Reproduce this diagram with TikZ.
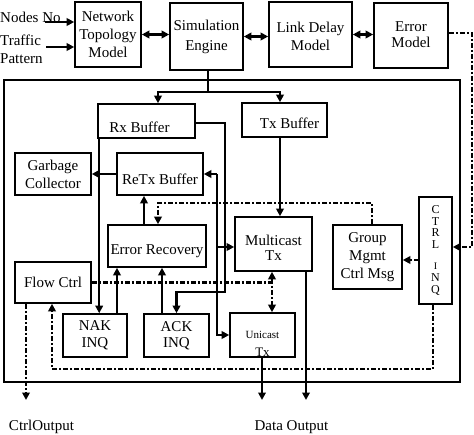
\documentclass[tikz,border=0pt]{standalone}
\usepackage{fontspec}
\setmainfont{Liberation Serif}
\usetikzlibrary{arrows.meta}
\newcommand\shiftdn[2]{\raisebox{-#1}[\height][\depth]{#2}}
\begin{document}
\begin{tikzpicture}[x=1pt,y=-1pt,
  box/.style={draw,line width=1.6pt,inner sep=0pt,align=center,font=\fontsize{15}{18}\selectfont},
  ln/.style={line width=2.4pt},
  tip/.tip={Triangle[length=7.5pt,width=7.5pt]},
  arr/.style={ln,-tip},
  darr/.style={ln,tip-tip},
  dd/.style={line width=2.4pt,dash pattern=on 5pt off 2pt on 2pt off 2pt},
  ddarr/.style={dd,-tip},
  dddarr/.style={dd,tip-tip},
  lbl/.style={font=\fontsize{15}{18}\selectfont,inner sep=0pt,align=left},
]
\useasboundingbox (0,0) rectangle (474,434);

% top row
\node[box,minimum width=66pt,minimum height=65pt] (ntm) at (108,34.5) {Network\\Topology\\Model};
\node[box,minimum width=73pt,minimum height=67pt,font=\fontsize{15}{20}\selectfont] (sim) at (206.5,36.5) {Simulation\\Engine};
\node[box,minimum width=83pt,minimum height=65pt] (ldm) at (310.5,34.5) {\shiftdn{2pt}{\shortstack{Link Delay\\[2pt]Model}}};
\node[box,minimum width=74pt,minimum height=65pt] (err) at (411,35.5) {\shiftdn{-1pt}{\shortstack{Error\\[2pt]Model}}};

\node[lbl,anchor=west] (nodesno) at (0,17) {Nodes No};
\node[lbl,anchor=west] (traffic) at (0,49) {Traffic\\Pattern};

% outer box
\node[draw,line width=2.4pt,minimum width=456pt,minimum height=302pt,inner sep=0pt] (outer) at (232,231) {};

% inner boxes
\node[box,minimum width=97pt,minimum height=34pt] (rx) at (146.5,121) {\shiftdn{6pt}{Rx Buffer\hspace{14pt}}};
\node[box,minimum width=85pt,minimum height=34pt] (tx) at (284.5,120) {\shiftdn{3pt}{\hspace{10pt}Tx Buffer}};
\node[box,minimum width=76pt,minimum height=42pt] (gc) at (53,174) {Garbage\\Collector};
\node[box,minimum width=86pt,minimum height=42pt] (retx) at (160,174) {\shiftdn{5pt}{ReTx Buffer}};
\node[box,minimum width=98pt,minimum height=42pt] (er) at (157,246) {\shiftdn{5pt}{Error Recovery}};
\node[box,minimum width=77pt,minimum height=54pt,font=\fontsize{15}{17}\selectfont] (mc) at (273.5,244) {\shiftdn{4pt}{\shortstack{Multicast\\[2pt]Tx}}};
\node[box,minimum width=69pt,minimum height=64pt] (gm) at (367.5,257) {Group\\Mgmt\\Ctrl Msg};
\node[box,minimum width=33pt,minimum height=107pt,font=\fontsize{12}{12}\selectfont] (ctrl) at (435.5,250.5)
  {C\\[0pt]T\\[-1pt]R\\L\\[9pt]\fontsize{10}{12}\selectfont I\\N\\Q};
\node[box,minimum width=76pt,minimum height=41pt] (fc) at (53,282.5) {Flow Ctrl};
\node[box,minimum width=64pt,minimum height=43pt,font=\fontsize{15}{17}\selectfont] (nak) at (95,335.5) {NAK\\INQ};
\node[box,minimum width=65pt,minimum height=43pt,font=\fontsize{15}{16}\selectfont] (ack) at (176.5,335.5) {ACK\\INQ};
\node[box,minimum width=65pt,minimum height=44pt] (uni) at (262.5,335)
  {\shiftdn{9pt}{\shortstack{\fontsize{11}{13}\selectfont Unicast\\[6pt]\fontsize{13}{13}\selectfont Tx}}};

\node[lbl,anchor=base] (ctrlout) at (41.5,430) {CtrlOutput};
\node[lbl,anchor=base] (dataout) at (291.5,430) {Data Output};

% inputs
\coordinate (nn) at (45,22);
\coordinate (tp) at (46,47);
\draw[arr] (nn) -- (nn -| ntm.west);
\draw[arr] (tp) -- (tp -| ntm.west);

% top double arrows
\draw[darr] (ntm.east) -- (ntm.east -| sim.west);
\draw[darr] (sim.east) -- (sim.east -| ldm.west);
\draw[darr] (ldm.east) -- (ldm.east -| err.west);

% simulation engine to buffers
\coordinate (sj) at (208,92);
\draw[ln] (sim.south -| sj) -- (sj);
\draw[arr] (sj) -| ([xshift=11.5pt]rx.north);
\draw[arr] (sj) -| ([xshift=-4.5pt]tx.north);

% Rx buffer left to NAK
\draw[arr] ([xshift=2pt]rx.south west) -- ([xshift=2pt]rx.south west |- nak.north);
% NAK, ACK to Error Recovery
\draw[arr] ([xshift=22pt]nak.north) -- ([xshift=22pt]nak.north |- er.south);
\draw[arr] ([xshift=-14.5pt]ack.north) -- ([xshift=-14.5pt]ack.north |- er.south);
% Error Recovery to ReTx
\draw[arr] ([xshift=-13pt]er.north) -- ([xshift=-13pt]er.north |- retx.south);
% ReTx to Garbage
\draw[arr] (retx.west) -- (gc.east);

% Rx right to ACK
\coordinate (r1) at (225,123);
\coordinate (r2) at (225,292);
\draw[arr] (rx.east |- r1) -- (r1) -- (r2) -| (ack.north);

% line at 217
\coordinate (q1) at (217,174);
\coordinate (q2) at (217,335);
\coordinate (q3) at (217,247);
\draw[arr] (q1) -- (retx.east);
\draw[arr] (q1) -- (q2) -- (q2 -| uni.west);
\draw[arr] (q3) -- (q3 -| mc.west);

% Tx buffer to multicast
\draw[arr] ([xshift=-4.5pt]tx.south) -- ([xshift=-4.5pt]tx.south |- mc.north);

% multicast <-> unicast
\coordinate (mj) at ([xshift=-1.5pt]mc.south);
\draw[dddarr] (mj) -- (mj |- uni.north);
\draw[dd] (fc.east) -- (fc.east -| mj);

% group mgmt to error recovery
\coordinate (g1) at (372,203);
\draw[ddarr] (gm.north -| g1) -- (g1) -| ([xshift=1pt]er.north);

% ctrl inq to group mgmt
\coordinate (c1) at (419,260);
\draw[ddarr] (c1) -- (c1 -| gm.east);

% ctrl inq bottom to flow ctrl
\coordinate (b1) at (433,369);
\coordinate (b2) at (52,369);
\draw[ddarr] (ctrl.south -| b1) -- (b1) -- (b2) -- (b2 |- fc.south);

% outputs
\coordinate (co) at (26,400);
\draw[ddarr] (fc.south -| co) -- (co);
\coordinate (d1) at (262,400);
\draw[arr] (uni.south -| d1) -- (d1);
\coordinate (d2) at (306,400);
\draw[arr] (mc.south -| d2) -- (d2);

% error model to ctrl inq
\coordinate (e1) at (472,33);
\coordinate (e2) at (472,247);
\draw[ddarr] (err.east |- e1) -- (e1) -- (e2) -- (e2 -| ctrl.east);
\end{tikzpicture}
\end{document}
